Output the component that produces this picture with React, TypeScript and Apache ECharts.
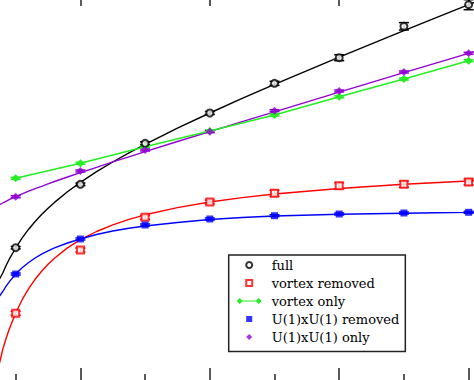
import React, { useEffect, useRef } from "react";
import * as echarts from "echarts";

// separations r (x values of the measured points)
const rValues = [1, 2, 3, 4, 5, 6, 7, 8];

const fullVals = [1.323, 1.957, 2.367, 2.67, 2.967, 3.223, 3.537, 3.753];
const fullErr = [0.012, 0.012, 0.015, 0.015, 0.02, 0.03, 0.037, 0.05];
const vortexRemovedVals = [0.667, 1.3, 1.627, 1.78, 1.867, 1.943, 1.957, 1.98];
const vortexRemovedErr = [0.02, 0.02, 0.02, 0.02, 0.03, 0.03, 0.03, 0.03];
const vortexOnlyVals = [2.017, 2.167, 2.333, 2.49, 2.65, 2.833, 3.01, 3.193];
const vortexOnlyErr = [0.01, 0.01, 0.01, 0.01, 0.01, 0.01, 0.01, 0.01];
const u1RemovedVals = [1.06, 1.41, 1.55, 1.61, 1.643, 1.66, 1.67, 1.677];
const u1RemovedErr = [0.01, 0.01, 0.01, 0.01, 0.01, 0.01, 0.01, 0.01];
const u1OnlyVals = [1.833, 2.09, 2.3, 2.483, 2.693, 2.89, 3.08, 3.267];
const u1OnlyErr = [0.01, 0.01, 0.01, 0.01, 0.01, 0.01, 0.01, 0.01];

// fitted curves
const fitR = [0.75, 0.8, 0.85, 0.9, 1, 1.1, 1.2, 1.3, 1.4, 1.5, 1.6, 1.8, 2, 2.25, 2.5, 2.75, 3, 3.5, 4, 4.5, 5, 6, 7, 8, 8.1];
const fullFit = [1.01, 1.07, 1.143, 1.208, 1.32, 1.422, 1.508, 1.585, 1.654, 1.718, 1.776, 1.882, 1.976, 2.083, 2.18, 2.272, 2.357, 2.519, 2.67, 2.816, 2.957, 3.229, 3.494, 3.753, 3.779];
const vortexRemovedFit = [0.17, 0.306, 0.413, 0.508, 0.67, 0.803, 0.913, 1.007, 1.088, 1.158, 1.218, 1.321, 1.403, 1.485, 1.552, 1.606, 1.652, 1.724, 1.78, 1.824, 1.86, 1.915, 1.957, 1.99, 1.993];
const u1RemovedFit = [0.84, 0.885, 0.936, 0.981, 1.06, 1.122, 1.175, 1.22, 1.258, 1.292, 1.321, 1.37, 1.41, 1.455, 1.49, 1.517, 1.54, 1.575, 1.605, 1.625, 1.64, 1.658, 1.668, 1.677, 1.678];
const u1OnlyFit = [1.753, 1.77, 1.787, 1.803, 1.833, 1.861, 1.888, 1.913, 1.937, 1.962, 1.985, 2.03, 2.074, 2.127, 2.181, 2.232, 2.283, 2.385, 2.483, 2.584, 2.682, 2.878, 3.073, 3.267, 3.287];

const legendNames = ["full", "vortex removed", "vortex only", "U(1)xU(1) removed", "U(1)xU(1) only"];

const BLACK = "#000000";
const RED = "#ff0000";
const GREEN = "#22ee22";
const BLUE = "#0000ff";
const VIOLET = "#9400d3";
const SERIF = "DejaVu Serif";

const pts = (vals: number[]) => rValues.map((r, i) => [r, vals[i]]);
const errPts = (vals: number[], errs: number[]) => rValues.map((r, i) => [r, vals[i], errs[i]]);
const fitPts = (vals: number[]) => fitR.map((r, i) => [r, vals[i]]);

function errorSeries(vals: number[], errs: number[], color: string) {
  return {
    type: "custom",
    name: "err-" + color,
    data: errPts(vals, errs),
    z: 3,
    silent: true,
    renderItem: (params: any, api: any) => {
      const x = api.value(0);
      const y = api.value(1);
      const e = api.value(2);
      const top = api.coord([x, y + e]);
      const bot = api.coord([x, y - e]);
      const hw = 5;
      const st = { stroke: color, lineWidth: 1.5 };
      return {
        type: "group",
        children: [
          { type: "line", shape: { x1: top[0], y1: top[1], x2: bot[0], y2: bot[1] }, style: st },
          { type: "line", shape: { x1: top[0] - hw, y1: top[1], x2: top[0] + hw, y2: top[1] }, style: st },
          { type: "line", shape: { x1: bot[0] - hw, y1: bot[1], x2: bot[0] + hw, y2: bot[1] }, style: st },
        ],
      };
    },
  };
}

function fitSeries(name: string, vals: number[], color: string) {
  return {
    type: "line",
    name,
    data: fitPts(vals),
    showSymbol: false,
    symbol: "none",
    smooth: false,
    lineStyle: { color, width: 1.4 },
    z: 2,
    silent: true,
  };
}

const tickAxis = (position: string) => ({
  type: "value",
  position,
  min: 0,
  max: 10,
  interval: 2,
  axisLine: { show: false },
  axisLabel: { show: false },
  splitLine: { show: false },
  axisTick: { show: true, inside: true, length: 12, lineStyle: { color: "#222", width: 1.5 } },
  minorTick: { show: true, splitNumber: 2, length: 6, lineStyle: { color: "#222", width: 1.5 } },
});

export default function App() {
  const ref = useRef<HTMLDivElement>(null);
  useEffect(() => {
    if (!ref.current) return;
    const chart = echarts.init(ref.current, undefined, { renderer: "svg" });
    const iconGreen = "path://M0 3L3 0L6 3L3 6Z M3 2.4H22V3.6H3Z M19 3L22 0L25 3L22 6Z";
    const iconSquare = "path://M0 0H6V6H0Z";
    const iconDiamond = "path://M3 0L6 3L3 6L0 3Z";
    chart.setOption({
      animation: false,
      backgroundColor: "#ffffff",
      textStyle: { fontFamily: SERIF },
      grid: { left: 0, right: 0, top: 0, bottom: 0, containLabel: false },
      xAxis: [tickAxis("bottom"), tickAxis("top")],
      yAxis: {
        type: "value",
        min: 0,
        max: 3.86,
        show: false,
        splitLine: { show: false },
      },
      legend: {
        left: 277.7,
        top: 261,
        orient: "vertical",
        borderColor: "#222",
        borderWidth: 1.5,
        padding: [3.5, 6, 8, 8],
        itemWidth: 25,
        itemHeight: 6,
        itemGap: 5,
        textStyle: {
          fontFamily: SERIF,
          fontSize: 13,
          color: "#000",
          padding: [0, 0, 0, 5],
        },
        data: legendNames.map((name, i) => ({
          name,
          icon: ["circle", iconSquare, iconGreen, iconSquare, iconDiamond][i],
        })),
        selectedMode: false,
      },
      series: [
        fitSeries("fit-full", fullFit, BLACK),
        fitSeries("fit-vortex-removed", vortexRemovedFit, RED),
        fitSeries("fit-u1-removed", u1RemovedFit, BLUE),
        fitSeries("fit-u1-only", u1OnlyFit, VIOLET),
        errorSeries(fullVals, fullErr, BLACK),
        errorSeries(vortexRemovedVals, vortexRemovedErr, RED),
        errorSeries(vortexOnlyVals, vortexOnlyErr, GREEN),
        errorSeries(u1RemovedVals, u1RemovedErr, BLUE),
        errorSeries(u1OnlyVals, u1OnlyErr, VIOLET),
        {
          type: "line",
          name: legendNames[2],
          data: pts(vortexOnlyVals),
          symbol: "diamond",
          symbolSize: 8,
          showSymbol: true,
          lineStyle: { color: GREEN, width: 1.5 },
          itemStyle: { color: GREEN },
          z: 4,
        },
        {
          type: "scatter",
          name: legendNames[0],
          data: pts(fullVals),
          symbol: "circle",
          symbolSize: 7,
          itemStyle: { color: "#ffffff", borderColor: BLACK, borderWidth: 2 },
          z: 5,
        },
        {
          type: "scatter",
          name: legendNames[1],
          data: pts(vortexRemovedVals),
          symbol: "rect",
          symbolSize: 7,
          itemStyle: { color: "#ffffff", borderColor: RED, borderWidth: 2 },
          z: 5,
        },
        {
          type: "scatter",
          name: legendNames[3],
          data: pts(u1RemovedVals),
          symbol: "rect",
          symbolSize: 7,
          itemStyle: { color: BLUE },
          z: 5,
        },
        {
          type: "scatter",
          name: legendNames[4],
          data: pts(u1OnlyVals),
          symbol: "diamond",
          symbolSize: 8,
          itemStyle: { color: VIOLET },
          z: 5,
        },
      ],
    });
    return () => chart.dispose();
  }, []);
  return (
    <div
      style={{ position: "fixed", left: 0, top: 0, width: 474, height: 380, overflow: "hidden", background: "#fff" }}
    >
      <div
        ref={ref}
        style={{ position: "absolute", left: -48.7, top: -6, width: 647, height: 386 }}
      />
    </div>
  );
}
